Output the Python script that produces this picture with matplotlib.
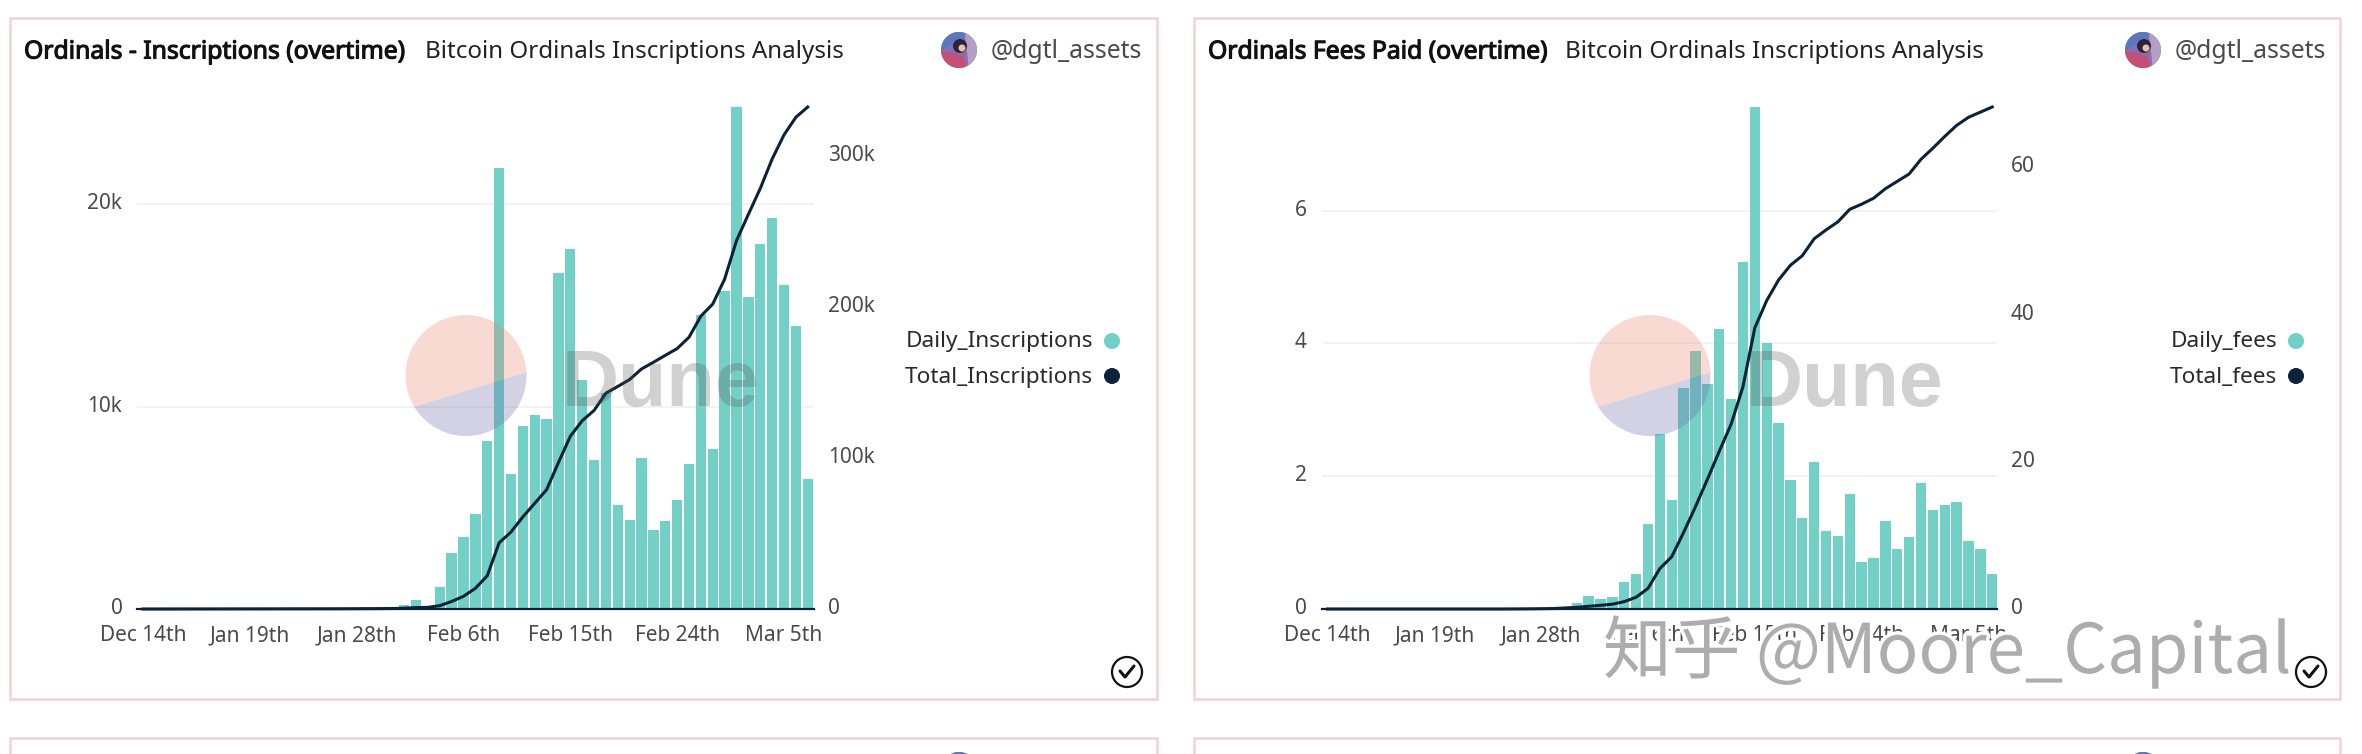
import matplotlib
matplotlib.use('Agg')
import matplotlib.pyplot as plt
from matplotlib.patches import Circle, Rectangle, Polygon
from matplotlib.transforms import ScaledTranslation
import matplotlib.patheffects as pe

W, H = 2362, 754
plt.rcParams['font.family'] = ['Noto Sans', 'DejaVu Sans']

tick_labels = ['Dec 14th', 'Jan 19th', 'Jan 28th', 'Feb 6th', 'Feb 15th', 'Feb 24th', 'Mar 5th']

# 每日铭文 (k)
daily_ins = [0.01, 0.01, 0.01, 0.01, 0.01, 0.01, 0.01, 0.01, 0.01, 0.01, 0.01, 0.01, 0.01, 0.01, 0.01, 0.01,
             0.01, 0.02, 0.02, 0.05, 0.03, 0.05, 0.2, 0.46, 0.13, 1.1, 2.75, 3.55, 4.68, 8.3, 21.8, 6.68,
             9.06, 9.6, 9.4, 16.6, 17.8, 11.33, 7.38, 10.66, 5.15, 4.4, 7.45, 3.9, 4.34, 5.39, 7.18, 14.5,
             7.9, 15.7, 24.8, 15.4, 18.05, 19.3, 16.0, 14.0, 6.43]
total_ins = [0, 0, 0, 0.01, 0.02, 0.03, 0.04, 0.05, 0.06, 0.07, 0.08, 0.09, 0.1, 0.11, 0.12, 0.13,
             0.14, 0.16, 0.18, 0.23, 0.26, 0.31, 0.5, 0.95, 1.1, 2.2, 5, 8.4, 13.7, 22, 43.8, 51,
             61, 70, 79, 97, 114.4, 124.7, 131.5, 143, 147.4, 152, 159, 163.4, 168, 172.5, 180, 194,
             202, 218.5, 244, 261.4, 278.5, 298, 314, 325.7, 332.5]

daily_fees = [0, 0, 0, 0, 0, 0, 0, 0, 0, 0, 0, 0, 0, 0, 0, 0,
              0.002, 0.003, 0.004, 0.005, 0.01, 0.09, 0.2, 0.145, 0.176, 0.41, 0.53, 1.285, 2.63, 1.64, 3.33, 3.88,
              3.39, 4.22, 3.16, 5.22, 7.56, 4.01, 2.8, 1.94, 1.37, 2.22, 1.17, 1.1, 1.725, 0.71, 0.77, 1.33,
              0.9, 1.08, 1.9, 1.49, 1.56, 1.61, 1.02, 0.91, 0.53]
total_fees = [0, 0, 0, 0, 0, 0, 0, 0, 0, 0, 0, 0, 0, 0, 0, 0,
              0.01, 0.02, 0.04, 0.06, 0.14, 0.23, 0.37, 0.5, 0.65, 1.0, 1.6, 2.8, 5.5, 7.1, 10.4, 13.9,
              17.6, 21.4, 25.1, 30.2, 38.2, 41.9, 44.7, 46.7, 48, 50.3, 51.5, 52.6, 54.3, 55, 55.8, 57.1,
              58.1, 59.1, 61.1, 62.6, 64.2, 65.7, 66.8, 67.5, 68.2]

TEAL = '#72d0c6'
NAVY = '#0b2238'
GREY = '#4a4a4a'
FRAME = '#ecd5d1'

fig = plt.figure(figsize=(W / 100, H / 100), dpi=100, facecolor='white')

# 底层: 边框, 标题 (像素坐标)
bg = fig.add_axes([0, 0, 1, 1], zorder=0)
bg.set_xlim(0, W)
bg.set_ylim(H, 0)
bg.axis('off')
# 顶层: 水印
top = fig.add_axes([0, 0, 1, 1], zorder=10)
top.set_xlim(0, W)
top.set_ylim(H, 0)
top.axis('off')
top.patch.set_alpha(0)


def avatar(cx, cy):
    base = Circle((cx, cy), 18, fc='#8a6fae', ec='none')
    bg.add_patch(base)
    up = Polygon([(cx - 20, cy - 20), (cx + 20, cy - 20), (cx - 20, cy + 2)], fc='#5c78bd', ec='none')
    bg.add_patch(up)
    up.set_clip_path(base)
    r = Polygon([(cx + 6, cy - 16), (cx + 20, cy - 20), (cx + 20, cy + 20), (cx + 10, cy + 20)], fc='#b59fc4', ec='none')
    bg.add_patch(r)
    r.set_clip_path(base)
    low = Polygon([(cx - 20, cy), (cx + 4, cy + 6), (cx + 8, cy + 20), (cx - 20, cy + 20)], fc='#c64f78', ec='none')
    bg.add_patch(low)
    low.set_clip_path(base)
    bg.add_patch(Circle((cx + 1, cy - 4), 7, fc='#2a2436', ec='none'))
    bg.add_patch(Circle((cx + 3, cy - 2), 3.5, fc='#e6bfb5', ec='none'))


def panel(dx, right, left_ax, right_ax, bar_x0, daily, total, ymax, y2max, yticks, ylabels, y2ticks, y2labels,
          title, sub_x, legend, leg_x):
    bg.add_patch(Rectangle((10 + dx, 18), right - 10 - dx, 681, fc='white', ec=FRAME, lw=1.8))
    bg.add_patch(Rectangle((10 + dx, 738), right - 10 - dx, 40, fc='white', ec=FRAME, lw=1.8))
    bg.text(24 + dx, 52, title, fontsize=17.8, color='#111111', va='center',
            path_effects=[pe.withStroke(linewidth=0.8, foreground='#111111')])
    bg.text(sub_x, 52, 'Bitcoin Ordinals Inscriptions Analysis', fontsize=17.4, color='#222222', va='center')
    avatar(959 + dx, 50)
    avatar(959 + dx, 770)
    bg.text(1142 + dx, 52, '@dgtl_assets', fontsize=17.8, color=GREY, va='center', ha='right')

    bg.text(leg_x, 342, legend[0], fontsize=16.3, color='#2a2a2a', va='center', ha='right')
    bg.text(leg_x, 377, legend[1], fontsize=16.3, color='#2a2a2a', va='center', ha='right')
    bg.add_patch(Circle((leg_x + 19, 341), 8, fc=TEAL, ec='none'))
    bg.add_patch(Circle((leg_x + 19, 376), 8, fc=NAVY, ec='none'))

    # 对勾图标
    bg.add_patch(Circle((1127 + dx, 672), 15, fc='white', ec='#111111', lw=1.6))
    bg.plot([1120 + dx, 1125 + dx, 1134 + dx], [671, 677, 666], color='#111111', lw=2.2, solid_capstyle='round')

    step = 11.87
    ax = fig.add_axes([left_ax / W, 1 - 609 / H, (right_ax - left_ax) / W, 502 / H], zorder=2)
    ax.patch.set_alpha(0)
    xs = list(range(len(daily)))
    ax.bar(xs, daily, width=0.87, color=TEAL, zorder=2)
    ax.set_xlim((left_ax - bar_x0) / step, (right_ax - bar_x0) / step)
    ax.set_ylim(0, ymax)
    ax.set_yticks(yticks)
    ax.set_yticklabels(ylabels)
    ax.set_xticks([0, 9, 18, 27, 36, 45, 54])
    ax.set_xticklabels(tick_labels)
    ax.tick_params(axis='y', length=0, pad=10.5, labelsize=15, labelcolor=GREY)
    ax.tick_params(axis='x', length=0, pad=11.5, labelsize=15, labelcolor=GREY)
    ax.grid(axis='y', color='#f0f0f0', lw=1.2, zorder=0)
    ax.set_axisbelow(True)
    for s in ax.spines.values():
        s.set_visible(False)
    ax.axhline(0, color=NAVY, lw=1.6, zorder=3, clip_on=False)

    ax2 = ax.twinx()
    ax2.set_zorder(3)
    ax2.patch.set_alpha(0)
    ax2.plot(xs, total, color=NAVY, lw=2.2, solid_joinstyle='round', clip_on=False)
    ax2.set_ylim(0, y2max)
    ax2.set_yticks(y2ticks)
    ax2.set_yticklabels(y2labels)
    ax2.tick_params(axis='y', length=0, pad=10, labelsize=15, labelcolor=GREY)
    for s in ax2.spines.values():
        s.set_visible(False)

    # 纵轴标签往上一点
    up = ScaledTranslation(0, 3 / 100, fig.dpi_scale_trans)
    for t in ax.get_yticklabels() + ax2.get_yticklabels():
        t.set_transform(t.get_transform() + up)

    # Dune 水印
    cx, cy = 466 + dx, 375.5
    mask = Circle((cx, cy), 60.5, transform=top.transData)
    hi = Polygon([(cx - 70, cy + 37), (cx + 70, cy - 6), (cx + 70, cy - 70), (cx - 70, cy - 70)], fc='#e8866a', ec='none', alpha=0.3)
    lo = Polygon([(cx - 70, cy + 37), (cx + 70, cy - 6), (cx + 70, cy + 70), (cx - 70, cy + 70)], fc='#6b6ba8', ec='none', alpha=0.3)
    top.add_patch(hi)
    top.add_patch(lo)
    hi.set_clip_path(mask)
    lo.set_clip_path(mask)
    top.text(562 + dx, 406, 'Dune', fontsize=57, fontweight='bold', color='#555555', alpha=0.27,
             va='baseline', ha='left', family='Liberation Sans')


panel(0, 1157, 137, 814, 143, daily_ins, total_ins, 24.8, 332.5,
      [0, 10, 20], ['0', '10k', '20k'], [0, 100, 200, 300], ['0', '100k', '200k', '300k'],
      'Ordinals - Inscriptions (overtime)', 425, ['Daily_Inscriptions', 'Total_Inscriptions'], 1093)
panel(1184, 2340, 1321.5, 1997, 1327.5, daily_fees, total_fees, 7.56, 68.2,
      [0, 2, 4, 6], ['0', '2', '4', '6'], [0, 20, 40, 60], ['0', '20', '40', '60'],
      'Ordinals Fees Paid (overtime)', 1565, ['Daily_fees', 'Total_fees'], 2277)

# 知乎水印
top.text(1603, 673, '知乎 @Moore_Capital', fontsize=49.5, color='#adadad', va='baseline', ha='left',
         family=['Noto Sans CJK SC', 'DejaVu Sans'],
         path_effects=[pe.withStroke(linewidth=5, foreground='white')])

fig.savefig('out.png', dpi=100)
